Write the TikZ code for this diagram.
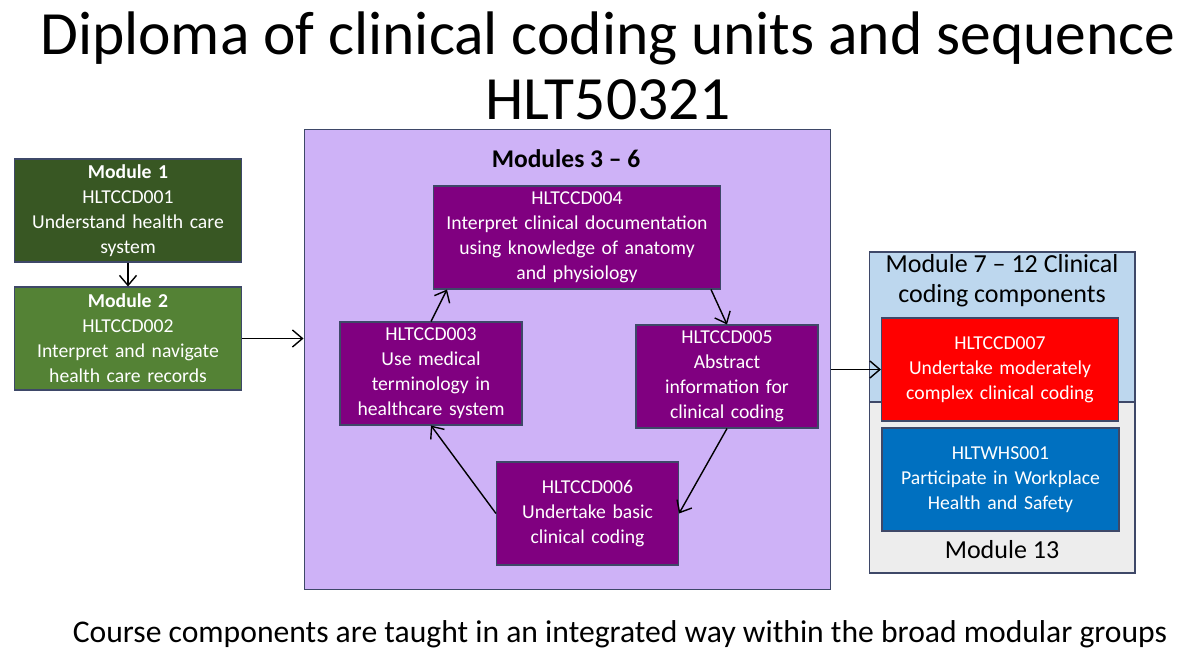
\documentclass[tikz,border=0pt]{standalone}
\usepackage{fontspec}
\setmainfont{Carlito}
\usetikzlibrary{positioning,arrows.meta,calc}

\definecolor{edge}{RGB}{62,72,104}
\definecolor{darkgreen}{RGB}{56,87,35}
\definecolor{midgreen}{RGB}{84,130,53}
\definecolor{lavender}{RGB}{206,178,247}
\definecolor{plum}{RGB}{128,0,128}
\definecolor{paleblue}{RGB}{189,215,238}
\definecolor{palegrey}{RGB}{237,237,237}
\definecolor{unitred}{RGB}{255,0,0}
\definecolor{unitblue}{RGB}{0,112,192}

\begin{document}
\begin{tikzpicture}[
  x=0.02cm, y=-0.02cm,
  font=\fontsize{11.2}{14.2}\selectfont,
  unit/.style={draw=edge,line width=0.6pt,align=center,text=white,inner sep=2pt,
               minimum height=2.06cm,text width=3.5cm},
  modbox/.style={unit,minimum width=4.52cm,text width=4.4cm},
  cbox/.style={unit,fill=plum,minimum width=3.64cm},
  group/.style={draw=edge,line width=0.6pt},
  flow/.style={-{Straight Barb[length=2mm,width=3.4mm]},line width=0.8pt}
]
\useasboundingbox (0,0) rectangle (1200,659);

% ---- title ----
\node[font=\fontsize{35}{37}\selectfont,align=center] (title) at (608,66)
     {Diploma of clinical coding units and sequence\\HLT50321};

% ---- modules 1 and 2 ----
\node[modbox,fill=darkgreen] (m1) at (128,210.5)
     {\textbf{Module 1}\\HLTCCD001\\Understand health care\\system};
\node[modbox,fill=midgreen] (m2) at (128,338.5)
     {\textbf{Module 2}\\HLTCCD002\\Interpret and navigate\\health care records};
\draw[flow] (m1)--(m2);

% ---- modules 3 - 6 ----
\node[group,fill=lavender,minimum width=10.54cm,minimum height=9.22cm] (grp) at (567.5,359.5) {};
\node[font=\fontsize{14.5}{16}\selectfont\bfseries] (gtitle) at (566,159) {Modules 3 -- 6};
\node[cbox,minimum width=5.72cm,text width=5.6cm] (c4) at (577,237.5)
     {HLTCCD004\\Interpret clinical documentation\\using knowledge of anatomy\\and physiology};
\node[cbox] (c3) at (431,373.5) {HLTCCD003\\Use medical\\terminology in\\healthcare system};
\node[cbox] (c5) at (727,376.5) {HLTCCD005\\Abstract\\information for\\clinical coding};
\node[cbox] (c6) at (587.5,513.5) {HLTCCD006\\Undertake basic\\clinical coding};

\draw[flow] (c3.north)--($(c4.south west)+(14,0)$);
\draw[flow] ($(c4.south east)+(-10,0)$)--(c5.north);
\draw[flow] (c5.south)--(c6.east);
\draw[flow] (c6.west)--(c3.south);
\draw[flow] (m2.east)--(m2.east -| grp.west);

% ---- modules 7 - 13 ----
\node[group,fill=paleblue,minimum width=5.32cm,minimum height=3cm] (cc) at (1002,327) {};
\node[group,fill=palegrey,minimum width=5.32cm,minimum height=3.42cm] (m13) at (1002,487.5) {};
\node[font=\fontsize{14.8}{17}\selectfont,align=center] (cctitle) at (1002,281)
     {Module 7 -- 12 Clinical\\coding components};
\node[font=\fontsize{14.8}{17}\selectfont] (m13title) at (1002,550) {Module 13};
\node[unit,fill=unitred,minimum width=4.72cm,text width=4.6cm] (c7) at (1000,369.5)
     {HLTCCD007\\Undertake moderately\\complex clinical coding};
\node[unit,fill=unitblue,minimum width=4.7cm,text width=4.6cm] (w1) at (1000.5,479.5)
     {HLTWHS001\\Participate in Workplace\\Health and Safety};
\draw[flow] (grp.east |- c7.west)--(c7.west);

% ---- note ----
\node[font=\fontsize{18}{21}\selectfont] (note) at (620,634)
     {Course components are taught in an integrated way within the broad modular groups};

\end{tikzpicture}
\end{document}
